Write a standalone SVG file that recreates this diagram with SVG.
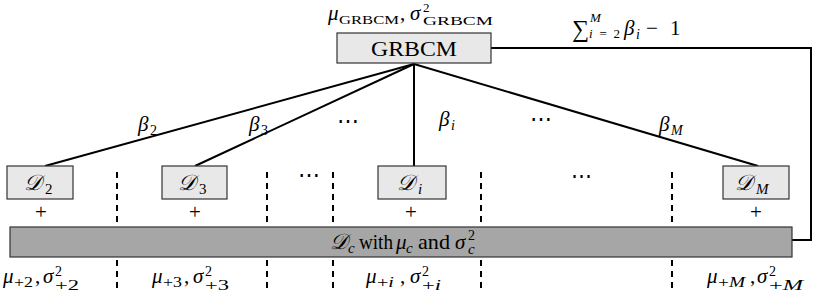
<svg xmlns="http://www.w3.org/2000/svg" width="815" height="293" viewBox="0 0 815 293" font-family="'Liberation Serif', 'Times New Roman', 'DejaVu Serif', serif">
<style>
.box{fill:#e8e8e8;stroke:#333;stroke-width:1.2}
.bar{fill:#a6a6a6;stroke:#333;stroke-width:1.2}
.ln{stroke:#000;stroke-width:2;fill:none}
.dash{stroke:#000;stroke-width:2;stroke-dasharray:6 5}
text{font-family:"Liberation Serif","Times New Roman","DejaVu Serif",serif;fill:#000}
.it{font-style:italic}
.cal{font-family:"DejaVu Serif","Liberation Serif",serif;font-style:italic}
.m{font-size:21px}
.s{font-size:14px}
</style>
<g id="dashes">
<line class="dash" x1="117" y1="172" x2="117" y2="292"/>
<line class="dash" x1="267" y1="172" x2="267" y2="292"/>
<line class="dash" x1="333" y1="172" x2="333" y2="292"/>
<line class="dash" x1="481" y1="172" x2="481" y2="292"/>
<line class="dash" x1="672" y1="172" x2="672" y2="292"/>
</g>
<g id="connectors">
<line class="ln" x1="414" y1="64" x2="45" y2="166"/>
<line class="ln" x1="414" y1="64" x2="195" y2="166"/>
<line class="ln" x1="414" y1="64" x2="414" y2="166"/>
<line class="ln" x1="414" y1="64" x2="758" y2="166"/>
<path class="ln" d="M491,48 H811 V240 H792"/>
</g>
<g id="edge-labels">
<text class="m"><tspan class="it" x="138" y="131">β</tspan><tspan class="s" x="150" y="135">2</tspan></text>
<text class="m"><tspan class="it" x="249" y="131">β</tspan><tspan class="s" x="261" y="135">3</tspan></text>
<text class="m" x="337" y="128" textLength="22" lengthAdjust="spacingAndGlyphs">⋯</text>
<text class="m"><tspan class="it" x="439" y="126">β</tspan><tspan class="s it" x="451" y="130">i</tspan></text>
<text class="m" x="530" y="126" textLength="22" lengthAdjust="spacingAndGlyphs">⋯</text>
<text class="m"><tspan class="it" x="659" y="131">β</tspan><tspan class="s it" x="671" y="135">M</tspan></text>
<text class="m" x="298" y="182" textLength="22" lengthAdjust="spacingAndGlyphs">⋯</text>
<text class="m" x="571" y="183" textLength="21" lengthAdjust="spacingAndGlyphs">⋯</text>
</g>
<g id="sum-label">
<text x="572" y="37" font-size="24">∑</text>
<text x="590" y="22" font-size="13" class="it">M</text>
<text x="589" y="38" font-size="13" textLength="31" lengthAdjust="spacing"><tspan class="it">i</tspan>=2</text>
<text class="m"><tspan class="it" x="624" y="35">β</tspan><tspan class="s it" x="636" y="39">i</tspan><tspan x="646" y="35">−</tspan><tspan x="670" y="35">1</tspan></text>
</g>
<g id="grbcm">
<rect class="box" x="337" y="33" width="154" height="30"/>
<text x="371" y="56" font-size="22" textLength="86" lengthAdjust="spacingAndGlyphs">GRBCM</text>
<text x="328" y="20" class="m it">μ</text>
<text x="339" y="24" font-size="13" textLength="60" lengthAdjust="spacingAndGlyphs">GRBCM</text>
<text x="400" y="20" class="m">,</text>
<text x="410" y="20" class="m it">σ</text>
<text x="423" y="12" font-size="13">2</text>
<text x="423" y="25" font-size="13" textLength="70" lengthAdjust="spacingAndGlyphs">GRBCM</text>
</g>
<g id="d2">
<rect class="box" x="7" y="166" width="66" height="33"/>
<text font-size="22"><tspan class="cal" x="24" y="190">𝒟</tspan><tspan font-size="15" x="45" y="194">2</tspan></text>
<text x="41" y="219" font-size="21" text-anchor="middle">+</text>
</g>
<g id="d3">
<rect class="box" x="162" y="166" width="65" height="33"/>
<text font-size="22"><tspan class="cal" x="178" y="190">𝒟</tspan><tspan font-size="15" x="199" y="194">3</tspan></text>
<text x="195" y="219" font-size="21" text-anchor="middle">+</text>
</g>
<g id="di">
<rect class="box" x="378" y="166" width="68" height="33"/>
<text font-size="22"><tspan class="cal" x="397" y="190">𝒟</tspan><tspan class="it" font-size="15" x="418" y="194">i</tspan></text>
<text x="411" y="219" font-size="21" text-anchor="middle">+</text>
</g>
<g id="dm">
<rect class="box" x="723" y="166" width="66" height="33"/>
<text font-size="22"><tspan class="cal" x="735" y="190">𝒟</tspan><tspan class="it" font-size="15" x="756" y="194">M</tspan></text>
<text x="756" y="219" font-size="21" text-anchor="middle">+</text>
</g>
<g id="dc">
<rect class="bar" x="10" y="227" width="782" height="30"/>
<text font-size="21"><tspan class="cal" font-size="22" x="330" y="249">𝒟</tspan><tspan class="it" font-size="15" x="348" y="253">c</tspan><tspan x="359" y="249" textLength="34" lengthAdjust="spacingAndGlyphs">with</tspan><tspan class="it" x="396" y="249">μ</tspan><tspan class="it" font-size="15" x="406" y="253">c</tspan><tspan x="418" y="249" textLength="32" lengthAdjust="spacingAndGlyphs">and</tspan><tspan class="it" x="455" y="249">σ</tspan><tspan font-size="14" x="468" y="240">2</tspan><tspan class="it" font-size="15" x="468" y="254">c</tspan></text>
</g>
<g id="bottom-labels">
<text class="m"><tspan class="it" x="3" y="283">μ</tspan><tspan font-size="15" x="14" y="287" textLength="19" lengthAdjust="spacingAndGlyphs">+2</tspan><tspan x="35" y="283">,</tspan><tspan class="it" x="43" y="283">σ</tspan><tspan class="s" x="55" y="276">2</tspan><tspan font-size="15" x="55" y="290" textLength="24" lengthAdjust="spacingAndGlyphs">+2</tspan></text>
<text class="m"><tspan class="it" x="152" y="283">μ</tspan><tspan font-size="15" x="163" y="287" textLength="19" lengthAdjust="spacingAndGlyphs">+3</tspan><tspan x="184" y="283">,</tspan><tspan class="it" x="193" y="283">σ</tspan><tspan class="s" x="205" y="276">2</tspan><tspan font-size="15" x="205" y="290" textLength="24" lengthAdjust="spacingAndGlyphs">+3</tspan></text>
<text class="m"><tspan class="it" x="366" y="283">μ</tspan><tspan font-size="15" x="377" y="287" textLength="17" lengthAdjust="spacingAndGlyphs">+<tspan class="it">i</tspan></tspan><tspan x="400" y="283">,</tspan><tspan class="it" x="410" y="283">σ</tspan><tspan class="s" x="422" y="276">2</tspan><tspan font-size="15" x="422" y="290" textLength="19" lengthAdjust="spacingAndGlyphs">+<tspan class="it">i</tspan></tspan></text>
<text class="m"><tspan class="it" x="707" y="283">μ</tspan><tspan font-size="15" x="718" y="287" textLength="27" lengthAdjust="spacingAndGlyphs">+<tspan class="it">M</tspan></tspan><tspan x="750" y="283">,</tspan><tspan class="it" x="757" y="283">σ</tspan><tspan class="s" x="769" y="276">2</tspan><tspan font-size="15" x="769" y="290" textLength="34" lengthAdjust="spacingAndGlyphs">+<tspan class="it">M</tspan></tspan></text>
</g>
</svg>
